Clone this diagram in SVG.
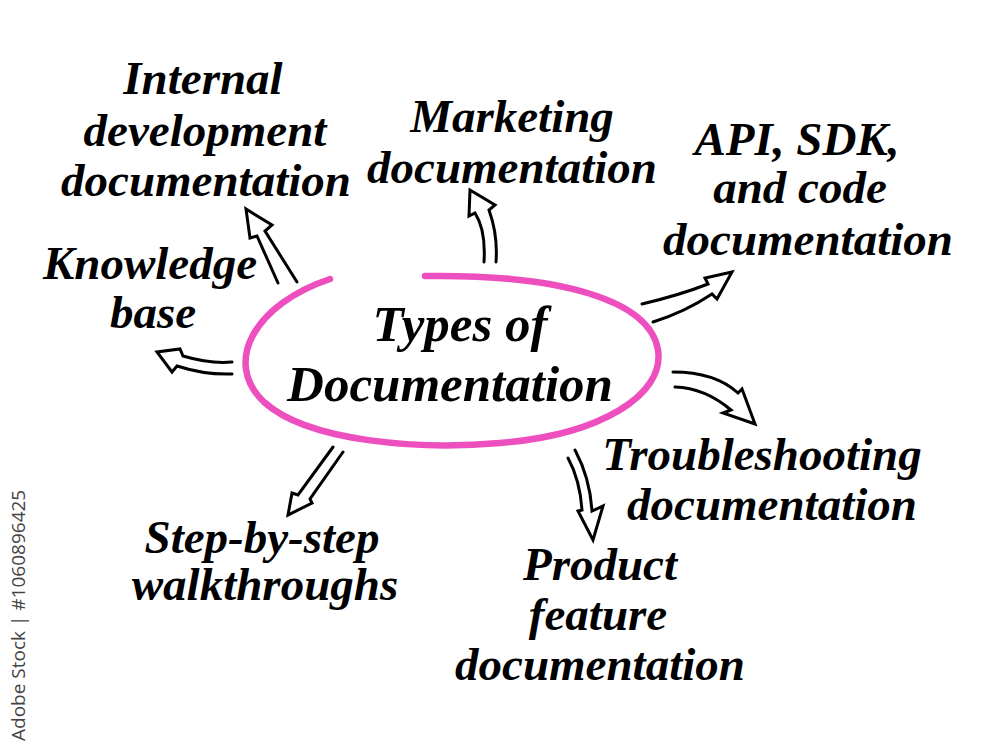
<svg xmlns="http://www.w3.org/2000/svg" width="1000" height="749" viewBox="0 0 1000 749">
<style>
.t{font-family:"Liberation Serif","DejaVu Serif",serif;font-style:italic;font-weight:bold;font-size:47px;fill:#000;text-anchor:middle}
.c{font-size:51px}
.a{fill:#fff;stroke:#000;stroke-width:3;stroke-linejoin:miter;stroke-linecap:round}
.s{font-family:"Open Sans","Noto Sans",sans-serif;font-size:19px;fill:#444}
</style>
<rect width="1000" height="749" fill="#fff"/>
<g id="center">
<path d="M 330 279 C 255 304, 222 362, 264 402 C 308 442, 420 450, 500 443 C 600 435, 665 395, 658 350 C 650 300, 560 274, 425 276" fill="none" stroke="#ee4fbf" stroke-width="6.5" stroke-linecap="round"/>
<text class="t c" x="460" y="341">Types of</text>
<text class="t c" x="450" y="401">Documentation</text>
</g>
<g id="connectors">
<path class="a" d="M 278 283 L 257 236 L 250 238 L 246 209 L 272 225 L 265 231 L 297 282"/>
<path class="a" d="M 232 362 Q 210 364 183 356 L 180 349 L 157 352 L 172 372 L 177 366 Q 205 375 232 374"/>
<path class="a" d="M 484 262 Q 486 230 475 213 L 469 216 L 470 190 L 495 205 L 489 210 Q 498 235 496 262"/>
<path class="a" d="M 642 304 Q 680 295 708 284 L 705 278 L 732 272 L 717 299 L 712 294 Q 685 312 653 322"/>
<path class="a" d="M 673 372 Q 715 372 738 393 L 742 389 L 755 424 L 723 413 L 731 410 Q 705 388 675 387"/>
<path class="a" d="M 568 458 Q 580 480 582 510 L 578 511 L 593 540 L 603 506 L 592 511 Q 590 478 575 450"/>
<path class="a" d="M 333 447 L 298 495 L 292 493 L 288 515 L 312 503 L 310 499 L 343 452"/>
</g>
<g id="internal">
<text class="t" x="203" y="94">Internal</text>
<text class="t" x="205" y="146">development</text>
<text class="t" x="206" y="196">documentation</text>
</g>
<g id="marketing">
<text class="t" x="512" y="132">Marketing</text>
<text class="t" x="512" y="183">documentation</text>
</g>
<g id="api">
<text class="t" x="797" y="155">API, SDK,</text>
<text class="t" x="800" y="203">and code</text>
<text class="t" x="808" y="255">documentation</text>
</g>
<g id="knowledge">
<text class="t" x="150" y="279">Knowledge</text>
<text class="t" x="153" y="328">base</text>
</g>
<g id="troubleshooting">
<text class="t" x="762" y="470">Troubleshooting</text>
<text class="t" x="772" y="520">documentation</text>
</g>
<g id="stepbystep">
<text class="t" x="262" y="553">Step-by-step</text>
<text class="t" x="265" y="600">walkthroughs</text>
</g>
<g id="product">
<text class="t" x="600" y="580">Product</text>
<text class="t" x="598" y="630">feature</text>
<text class="t" x="600" y="680">documentation</text>
</g>
<text class="s" transform="translate(25 741) rotate(-90)">Adobe Stock | #1060896425</text>
</svg>
